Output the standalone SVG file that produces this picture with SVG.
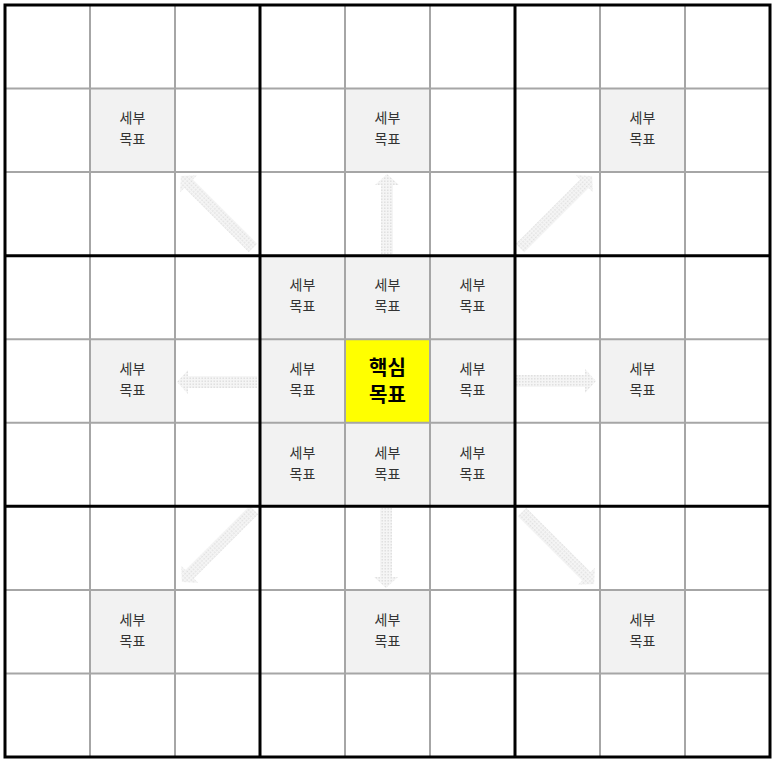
<svg xmlns="http://www.w3.org/2000/svg" width="777" height="763" viewBox="0 0 777 763">
<defs>
<style>
.bg{fill:#ffffff}
.sub{fill:#f2f2f2}
.core{fill:#ffff00}
.thin{stroke:#a6a6a6;stroke-width:2;fill:none}
.thick{stroke:#000000;stroke-width:3;fill:none}
.t{font-family:"Noto Sans CJK KR","Noto Sans",sans-serif;font-size:14px;fill:#333333;text-anchor:middle}
.tc{font-family:"Noto Sans CJK KR","Noto Sans",sans-serif;font-size:20px;font-weight:bold;fill:#000000;text-anchor:middle}
.arrow{fill:url(#dots)}
</style>
<pattern id="dots" width="3" height="3" patternUnits="userSpaceOnUse">
<rect width="3" height="3" fill="#f5f5f5"/>
<rect width="1.5" height="1.5" fill="#e0e0e0"/>
</pattern>
<path id="arr80" d="M0,-6 L69,-6 L69,-12 L80,0 L69,12 L69,6 L0,6 Z"/>
<path id="arr102" d="M0,-6 L91,-6 L91,-12 L102,0 L91,12 L91,6 L0,6 Z"/>
</defs>
<rect x="0" y="0" width="777" height="763" class="bg"/>

<g id="fills">
<rect class="sub" x="90" y="88.56" width="85" height="83.56"/>
<rect class="sub" x="345" y="88.56" width="85" height="83.56"/>
<rect class="sub" x="600" y="88.56" width="85" height="83.56"/>
<rect class="sub" x="90" y="339.22" width="85" height="83.56"/>
<rect class="sub" x="600" y="339.22" width="85" height="83.56"/>
<rect class="sub" x="90" y="589.89" width="85" height="83.56"/>
<rect class="sub" x="345" y="589.89" width="85" height="83.56"/>
<rect class="sub" x="600" y="589.89" width="85" height="83.56"/>
<rect class="sub" x="260" y="255.67" width="255" height="250.67"/>
<rect class="core" x="345" y="339.22" width="85" height="83.56"/>
</g>

<g id="connectors">
<use href="#arr80" class="arrow" transform="translate(387,254) rotate(-90)"/>
<use href="#arr80" class="arrow" transform="translate(386,508) rotate(90)"/>
<use href="#arr80" class="arrow" transform="translate(257,382) rotate(180)"/>
<use href="#arr80" class="arrow" transform="translate(516,381)"/>
<use href="#arr102" class="arrow" transform="translate(253,248) rotate(-135)"/>
<use href="#arr102" class="arrow" transform="translate(520,248) rotate(-45)"/>
<use href="#arr102" class="arrow" transform="translate(254,510) rotate(135)"/>
<use href="#arr102" class="arrow" transform="translate(522,512) rotate(45)"/>
</g>

<g id="grid">
<path class="thin" d="M90,5V757M175,5V757M345,5V757M430,5V757M600,5V757M685,5V757"/>
<path class="thin" d="M5,88.56H770M5,172.11H770M5,339.22H770M5,422.78H770M5,589.89H770M5,673.44H770"/>
<path class="thick" d="M260,5V757M515,5V757M5,255.67H770M5,506.33H770"/>
<rect class="thick" x="5" y="5" width="765" height="752"/>
</g>

<g id="node-core"><text class="tc" x="387.5" y="375">핵심</text><text class="tc" x="387.5" y="402">목표</text></g>

<g id="node-c1"><text class="t" x="302.5" y="290.4">세부</text><text class="t" x="302.5" y="311.4">목표</text></g>
<g id="node-c2"><text class="t" x="387.5" y="290.4">세부</text><text class="t" x="387.5" y="311.4">목표</text></g>
<g id="node-c3"><text class="t" x="472.5" y="290.4">세부</text><text class="t" x="472.5" y="311.4">목표</text></g>
<g id="node-c4"><text class="t" x="302.5" y="374">세부</text><text class="t" x="302.5" y="395">목표</text></g>
<g id="node-c6"><text class="t" x="472.5" y="374">세부</text><text class="t" x="472.5" y="395">목표</text></g>
<g id="node-c7"><text class="t" x="302.5" y="457.6">세부</text><text class="t" x="302.5" y="478.6">목표</text></g>
<g id="node-c8"><text class="t" x="387.5" y="457.6">세부</text><text class="t" x="387.5" y="478.6">목표</text></g>
<g id="node-c9"><text class="t" x="472.5" y="457.6">세부</text><text class="t" x="472.5" y="478.6">목표</text></g>

<g id="node-s1"><text class="t" x="132.5" y="123.3">세부</text><text class="t" x="132.5" y="144.3">목표</text></g>
<g id="node-s2"><text class="t" x="387.5" y="123.3">세부</text><text class="t" x="387.5" y="144.3">목표</text></g>
<g id="node-s3"><text class="t" x="642.5" y="123.3">세부</text><text class="t" x="642.5" y="144.3">목표</text></g>
<g id="node-s4"><text class="t" x="132.5" y="374">세부</text><text class="t" x="132.5" y="395">목표</text></g>
<g id="node-s6"><text class="t" x="642.5" y="374">세부</text><text class="t" x="642.5" y="395">목표</text></g>
<g id="node-s7"><text class="t" x="132.5" y="624.7">세부</text><text class="t" x="132.5" y="645.7">목표</text></g>
<g id="node-s8"><text class="t" x="387.5" y="624.7">세부</text><text class="t" x="387.5" y="645.7">목표</text></g>
<g id="node-s9"><text class="t" x="642.5" y="624.7">세부</text><text class="t" x="642.5" y="645.7">목표</text></g>
</svg>
